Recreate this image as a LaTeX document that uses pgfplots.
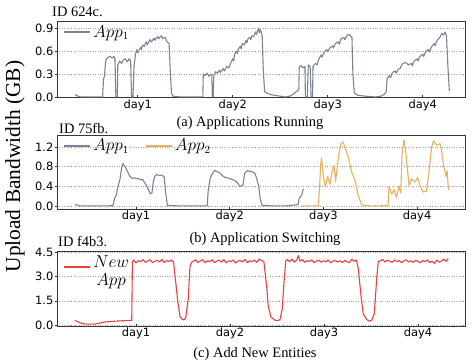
\documentclass[border=0pt]{standalone}
\usepackage{fontspec}
\setmainfont{Liberation Serif}
\newfontfamily\tickfont{DejaVu Sans}
\usepackage{pgfplots}
\pgfplotsset{compat=1.18}
\definecolor{appone}{RGB}{125,131,150}
\definecolor{apptwo}{RGB}{232,176,96}
\definecolor{newapp}{RGB}{238,62,62}
\definecolor{framec}{RGB}{55,55,55}
\pgfplotsset{
  panel/.style={
    scale only axis, width=408bp,
    axis line style={framec, line width=1bp},
    tick style={framec, line width=0.7bp},
    major tick length=2.5bp,
    xtick={1,2,3,4}, xticklabels={day1,day2,day3,day4},
    xtick pos=bottom, ytick pos=left,
    xtick align=inside, ytick align=outside,
    ymajorgrids, grid style={dotted, gray!70, line width=0.6bp},
    tick label style={font=\tickfont\fontsize{11.5}{12.5}\selectfont},
    /pgf/number format/assume math mode=true,
    yticklabel style={inner sep=1bp, /pgf/number format/.cd, fixed, fixed zerofill, precision=1},
    xticklabel style={inner sep=1.5bp},
    legend style={draw=none, fill=none, at={(0.012,0.99)}, anchor=north west,
      font=\fontsize{16}{18}\selectfont, inner sep=1bp,
      /tikz/every even column/.append style={column sep=14bp}},
    legend cell align=left,
    legend image code/.code={\draw[#1,line width=2.2bp] (0bp,0bp) -- (26bp,0bp);},
    every axis plot/.append style={line width=1.1bp, line join=round},
  }
}
\begin{document}
\begin{tikzpicture}
\useasboundingbox (0,0) rectangle (474bp,-362bp);
% ---------------- (a)
\begin{axis}[panel, at={(57bp,-21.7bp)}, anchor=north west, height=76bp,
  xmin=0.15, xmax=4.445, ymin=-0.01, ymax=0.985, ytick={0,0.3,0.6,0.9}]
\addplot[appone] coordinates {
(0.34,0.03)(0.37,0.01)(0.40,0.0)(0.50,0.0)(0.60,0.0)(0.63,0.0)(0.64,0.24)(0.65,0.27)
(0.66,0.45)(0.67,0.50)(0.69,0.52)(0.71,0.53)(0.73,0.51)(0.75,0.53)(0.76,0.50)(0.77,0.0)
(0.785,0.0)(0.79,0.42)(0.81,0.47)(0.83,0.44)(0.85,0.49)(0.87,0.50)(0.89,0.46)(0.91,0.50)
(0.925,0.47)(0.935,0.0)(0.95,0.0)(0.96,0.38)(0.975,0.55)(0.99,0.62)(1.00,0.58)(1.01,0.60)(1.03,0.65)
(1.04,0.62)(1.05,0.68)(1.07,0.66)(1.08,0.70)(1.09,0.72)(1.10,0.68)(1.11,0.71)(1.13,0.75)(1.14,0.72)(1.15,0.73)(1.17,0.77)(1.18,0.74)(1.19,0.76)
(1.21,0.79)(1.22,0.76)(1.23,0.78)(1.25,0.80)(1.26,0.76)(1.27,0.77)(1.29,0.78)(1.30,0.74)(1.31,0.72)(1.33,0.70)(1.34,0.40)
(1.355,0.05)(1.37,0.01)(1.45,0.0)(1.55,0.0)(1.65,0.0)(1.685,0.0)(1.69,0.30)(1.71,0.28)
(1.73,0.31)(1.75,0.27)(1.77,0.30)(1.78,0.28)(1.785,0.0)(1.795,0.0)(1.80,0.28)(1.82,0.33)
(1.84,0.31)(1.86,0.35)(1.87,0.32)(1.88,0.34)(1.90,0.37)(1.91,0.34)(1.92,0.36)(1.94,0.40)(1.96,0.38)(1.98,0.45)
(2.00,0.50)(2.01,0.47)(2.02,0.56)(2.04,0.60)(2.05,0.57)(2.06,0.63)(2.08,0.66)(2.09,0.63)(2.10,0.70)(2.12,0.68)(2.14,0.74)
(2.15,0.71)(2.16,0.76)(2.18,0.78)(2.19,0.75)(2.20,0.80)(2.22,0.79)(2.24,0.85)(2.25,0.82)(2.27,0.90)(2.28,0.84)
(2.29,0.88)(2.30,0.85)(2.31,0.80)(2.32,0.40)(2.335,0.07)(2.36,0.05)(2.40,0.03)(2.45,0.02)
(2.50,0.01)(2.55,0.0)(2.60,0.01)(2.63,0.03)(2.66,0.06)(2.68,0.08)(2.695,0.10)(2.70,0.39)
(2.72,0.41)(2.74,0.38)(2.76,0.40)(2.765,0.0)(2.785,0.0)(2.795,0.42)(2.815,0.40)(2.825,0.0)
(2.84,0.0)(2.845,0.40)(2.87,0.44)(2.89,0.42)(2.90,0.48)(2.93,0.55)(2.94,0.52)(2.96,0.58)(2.99,0.62)(3.00,0.59)(3.02,0.64)
(3.05,0.67)(3.06,0.64)(3.08,0.70)(3.11,0.72)(3.12,0.69)(3.14,0.76)(3.17,0.78)(3.18,0.75)(3.20,0.80)(3.22,0.82)(3.24,0.80)
(3.255,0.78)(3.265,0.30)(3.28,0.05)(3.32,0.02)(3.40,0.01)(3.50,0.0)(3.56,0.01)(3.60,0.04)
(3.615,0.07)(3.625,0.24)(3.65,0.28)(3.66,0.25)(3.68,0.32)(3.71,0.34)(3.72,0.31)(3.74,0.36)(3.76,0.37)(3.79,0.44)
(3.82,0.45)(3.85,0.42)(3.88,0.44)(3.89,0.41)(3.91,0.47)(3.94,0.50)(3.95,0.47)(3.97,0.53)(4.00,0.56)(4.01,0.53)(4.03,0.59)
(4.06,0.62)(4.07,0.59)(4.09,0.65)(4.12,0.70)(4.13,0.67)(4.15,0.74)(4.18,0.78)(4.20,0.83)(4.22,0.81)(4.235,0.85)
(4.25,0.80)(4.265,0.40)(4.28,0.08)};
\legend{$App_1$}
\end{axis}
% ---------------- (b)
\begin{axis}[panel, at={(57bp,-135.3bp)}, anchor=north west, height=74bp,
  xmin=0.157, xmax=4.511, ymin=-0.07, ymax=1.44, ytick={0,0.4,0.8,1.2}, legend columns=2]
\addplot[appone] coordinates {
(0.35,0.03)(0.40,0.0)(0.50,0.0)(0.60,0.0)(0.70,0.0)(0.755,0.01)(0.77,0.15)(0.79,0.22)
(0.80,0.33)(0.815,0.45)(0.83,0.55)(0.845,0.76)(0.86,0.86)(0.875,0.82)(0.89,0.78)(0.90,0.74)
(0.92,0.66)(0.935,0.60)(0.95,0.58)(0.97,0.56)(0.99,0.57)(1.01,0.55)(1.025,0.56)(1.05,0.53)
(1.07,0.54)(1.09,0.48)(1.11,0.42)(1.13,0.35)(1.15,0.25)(1.17,0.26)(1.185,0.50)(1.20,0.60)
(1.22,0.64)(1.25,0.62)(1.27,0.63)(1.30,0.60)(1.315,0.30)(1.335,0.01)(1.45,0.0)(1.60,0.0)
(1.76,0.0)(1.77,0.30)(1.79,0.55)(1.81,0.64)(1.84,0.73)(1.86,0.70)(1.89,0.68)(1.92,0.62)
(1.95,0.58)(1.98,0.57)(2.01,0.55)(2.04,0.53)(2.07,0.50)(2.09,0.45)(2.11,0.39)(2.14,0.42)
(2.16,0.66)(2.19,0.72)(2.22,0.70)(2.25,0.69)(2.27,0.66)(2.29,0.55)(2.31,0.40)(2.325,0.15)
(2.345,0.01)(2.45,0.0)(2.60,0.0)(2.70,0.02)(2.73,0.03)(2.74,0.15)(2.76,0.20)(2.77,0.22)
(2.785,0.35)};
\addplot[apptwo] coordinates {
(2.77,0.0)(2.85,0.0)(2.945,0.0)(2.96,0.40)(2.97,0.82)(2.98,0.98)(3.00,0.60)(3.02,0.38)
(3.045,0.60)(3.07,0.44)(3.095,0.72)(3.115,0.82)(3.13,0.50)(3.16,1.00)(3.19,1.28)(3.21,1.30)
(3.24,1.14)(3.265,1.00)(3.30,0.70)(3.34,0.50)(3.37,0.22)(3.41,0.02)(3.50,0.0)(3.60,0.0)
(3.69,0.01)(3.70,0.40)(3.73,0.24)(3.755,0.33)(3.78,0.17)(3.805,0.40)(3.825,0.26)(3.84,1.08)
(3.86,1.35)(3.88,1.08)(3.90,0.68)(3.915,0.42)(3.94,0.55)(3.98,0.49)(4.005,0.58)(4.03,0.42)
(4.065,0.28)(4.10,0.30)(4.125,0.68)(4.155,1.20)(4.175,1.33)(4.21,1.24)(4.245,1.27)(4.26,1.14)
(4.285,0.80)(4.31,0.60)(4.32,0.72)(4.335,0.32)};
\legend{$App_1$,$App_2$}
\end{axis}
% ---------------- (c)
\begin{axis}[panel, at={(57bp,-251.5bp)}, anchor=north west, height=74.5bp,
  xmin=0.16, xmax=4.5, ymin=-0.05, ymax=4.55, ytick={0,1.5,3.0,4.5}]
\addplot[newapp] coordinates {
(0.35,0.30)(0.40,0.15)(0.46,0.07)(0.56,0.07)(0.635,0.15)(0.67,0.20)(0.78,0.25)(0.94,0.30)
(0.955,0.30)(0.962,3.90)
(0.975,4.02)(1.000,3.85)(1.025,3.98)(1.050,3.92)(1.075,4.05)(1.100,3.88)(1.125,3.96)(1.150,4.04)
(1.175,3.86)(1.200,3.95)(1.225,4.00)(1.250,3.90)(1.275,4.06)(1.300,3.87)(1.325,3.99)(1.350,3.93)
(1.375,4.03)(1.400,3.88)
(1.422,2.70)(1.444,1.50)(1.468,0.55)(1.493,0.35)(1.51,0.33)(1.529,0.45)(1.556,1.60)(1.574,3.60)
(1.593,3.90)
(1.610,3.95)(1.635,4.03)(1.660,3.88)(1.685,3.97)(1.710,4.05)(1.735,3.86)(1.760,3.98)(1.785,3.92)
(1.810,4.04)(1.835,3.87)(1.860,3.96)(1.885,4.01)(1.910,3.89)(1.935,4.05)(1.960,3.85)(1.985,3.97)
(2.010,3.93)(2.035,4.03)(2.060,3.84)(2.085,3.96)(2.110,4.00)(2.135,3.90)(2.160,4.06)(2.185,3.86)
(2.210,3.98)(2.235,3.92)(2.260,4.02)(2.285,3.88)(2.310,4.08)(2.335,3.98)(2.360,3.95)
(2.39,2.40)(2.407,1.20)(2.436,0.50)(2.479,0.30)(2.51,0.28)(2.532,0.35)(2.556,1.00)(2.574,2.60)
(2.593,3.95)
(2.610,4.05)(2.635,3.92)(2.660,4.08)(2.685,3.90)(2.710,4.02)(2.727,4.30)(2.745,3.95)(2.770,4.05)
(2.795,3.88)(2.820,3.99)(2.845,3.93)(2.870,4.04)(2.895,3.86)(2.920,3.96)(2.945,4.01)(2.970,3.89)
(2.995,3.97)(3.020,3.92)(3.045,4.03)(3.070,3.85)(3.095,3.96)(3.120,4.00)(3.145,3.90)(3.170,3.98)
(3.195,3.87)(3.220,3.99)(3.245,3.93)(3.270,3.86)(3.295,4.07)(3.320,3.95)(3.345,4.02)
(3.365,3.50)(3.394,1.80)(3.418,0.70)(3.454,0.35)(3.48,0.25)(3.507,0.30)(3.535,0.70)(3.561,2.90)
(3.578,3.95)
(3.600,3.98)(3.625,4.06)(3.650,3.90)(3.675,4.02)(3.700,3.95)(3.725,3.88)(3.750,4.03)(3.775,3.92)
(3.800,3.99)(3.825,3.86)(3.850,3.97)(3.875,4.04)(3.900,3.91)(3.925,3.98)(3.950,3.88)(3.975,4.01)
(4.000,3.94)(4.025,3.85)(4.050,3.99)(4.075,3.92)(4.100,4.03)(4.125,3.87)(4.150,3.95)(4.175,3.82)
(4.200,4.02)(4.225,3.90)(4.250,3.96)(4.275,4.08)(4.300,3.94)(4.322,4.12)};
\legend{{\begin{tabular}{@{}c@{}}$New$\\$App$\end{tabular}}}
\end{axis}
% ---------------- texts
\begin{scope}[every node/.style={font=\fontsize{14.5}{16.5}\selectfont, inner sep=0pt}]
\node[anchor=base west] at (52bp,-16bp) {ID 624c.};
\node[anchor=base west] at (59bp,-133.5bp) {ID 75fb.};
\node[anchor=base west] at (58bp,-246bp) {ID f4b3.};
\node[anchor=base] at (250bp,-126.7bp) {(a) Applications Running};
\node[anchor=base] at (265bp,-242bp) {(b) Application Switching};
\node[anchor=base] at (255bp,-357bp) {(c) Add New Entities};
\end{scope}
\node[rotate=90, font=\fontsize{21.5}{24}\selectfont, inner sep=0pt] at (15bp,-166.5bp) {Upload Bandwidth (GB)};
\end{tikzpicture}
\end{document}
